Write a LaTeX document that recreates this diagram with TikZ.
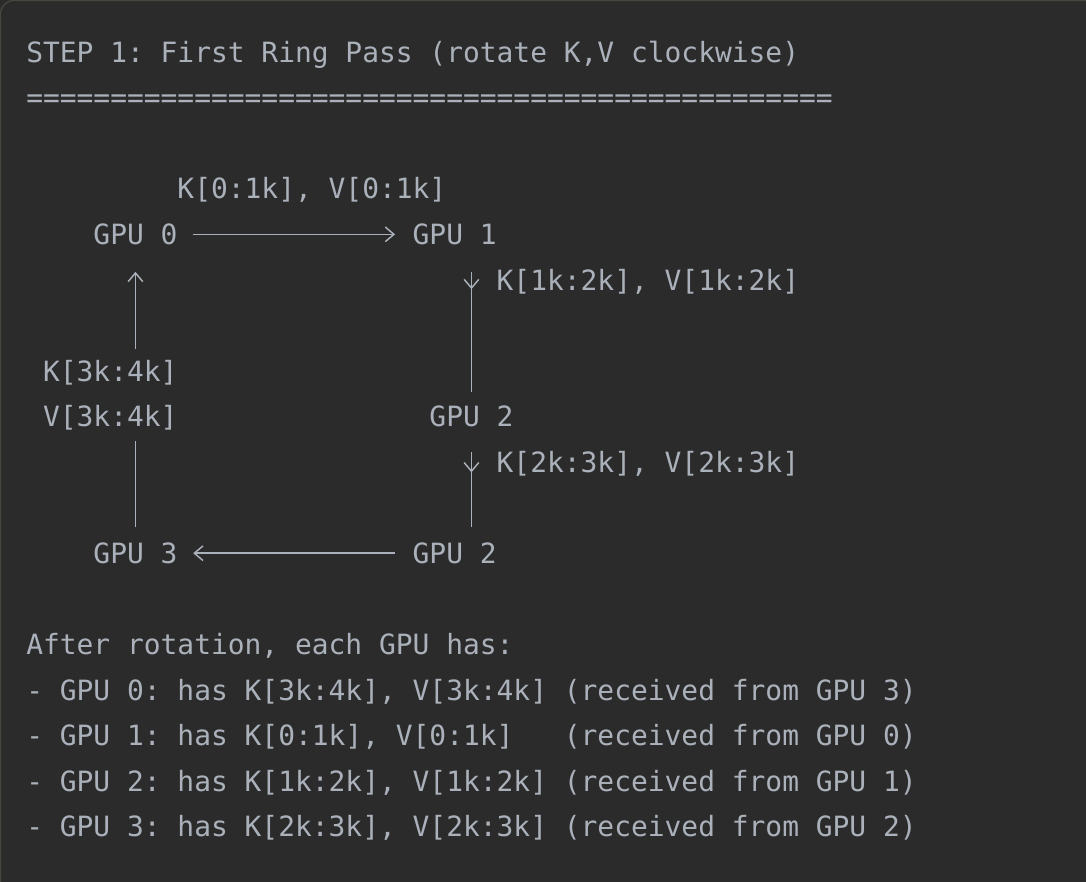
\documentclass[tikz,border=0pt]{standalone}
\usepackage{fontspec}
\newfontfamily\codefont{DejaVu Sans Mono}
\usetikzlibrary{arrows.meta,decorations.markings}
\definecolor{bg}{HTML}{2B2B2B}
\definecolor{fg}{HTML}{ABB1BA}
\definecolor{edgecol}{HTML}{46463F}
\begin{document}
\begin{tikzpicture}[x=0.75pt,y=-0.75pt,
  txt/.style={font=\codefont\fontsize{20.93pt}{25pt}\selectfont\frenchspacing, text=fg, inner sep=0pt, anchor=base west},
  lbl/.style={txt, fill=bg, inner ysep=8pt, inner xsep=0pt},
  conn/.style={fg, line width=1.1pt},
  tiphead/.style={-{Straight Barb[length=6.5pt,width=11pt]}},
  midtip/.style={postaction={decorate}, decoration={markings, mark=at position #1 with {\arrow{Straight Barb[length=6.5pt,width=11pt]}}}}
]
\useasboundingbox (0,0) rectangle (1086,882);
\fill[bg] (0,0) rectangle (1086,882);
\draw[edgecol, line width=1pt, rounded corners=10pt] (0.5,1000) -- (0.5,0.5) -- (1200,0.5);

% header
\node[txt] (title) at (26,62.3) {STEP 1: First Ring Pass (rotate K,V clockwise)};
\node[txt] (rule) at (26,107.85) {================================================};

% ring
\node[txt] (l01) at (177.2,198.95) {K[0:1k], V[0:1k]};
\node[txt] (gpu0) at (93.2,244.5) {GPU 0};
\node[txt] (gpu1) at (412.4,244.5) {GPU 1};
\node[txt] (l12) at (496.4,290.05) {K[1k:2k], V[1k:2k]};
\node[txt] (gpu2m) at (429.2,426.7) {GPU 2};
\node[txt] (l23) at (496.4,472.25) {K[2k:3k], V[2k:3k]};
\node[txt] (gpu3) at (93.2,563.35) {GPU 3};
\node[txt] (gpu2) at (412.4,563.35) {GPU 2};

\draw[conn, tiphead, shorten <=11.6pt, shorten >=13pt] (gpu0.east) -- (gpu1.west);
\draw[conn, tiphead, shorten <=13pt, shorten >=11.6pt] (gpu2.west) -- (gpu3.east);
\draw[conn, tiphead, shorten <=11.25pt, shorten >=20pt] (gpu3.north) -- (gpu0.south);
\draw[conn, shorten <=20.25pt, shorten >=10.5pt, midtip=33pt] (gpu2m.north |- gpu1.south) -- (gpu2m.north);
\draw[conn, shorten <=18.75pt, shorten >=11.25pt, midtip=33.75pt] (gpu2m.south) -- (gpu2m.south |- gpu2.north);

\node[lbl] (l30k) at (42.8,381.15) {K[3k:4k]};
\node[lbl] (l30v) at (42.8,426.7) {V[3k:4k]};

% summary
\node[txt] (after) at (26,654.45) {After rotation, each GPU has:};
\node[txt] (r0) at (26,700) {- GPU 0: has K[3k:4k], V[3k:4k] (received from GPU 3)};
\node[txt] (r1) at (26,745.55) {- GPU 1: has K[0:1k], V[0:1k]~~~(received from GPU 0)};
\node[txt] (r2) at (26,791.1) {- GPU 2: has K[1k:2k], V[1k:2k] (received from GPU 1)};
\node[txt] (r3) at (26,836.65) {- GPU 3: has K[2k:3k], V[2k:3k] (received from GPU 2)};
\end{tikzpicture}
\end{document}
